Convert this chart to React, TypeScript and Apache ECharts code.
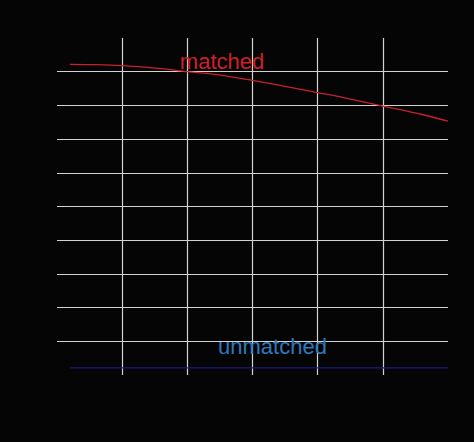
import React, { useEffect, useRef } from "react";
import * as echarts from "echarts";

// x positions (day) of the sampled points
const days = [1, 3, 5, 8, 10, 12, 15, 18, 20, 22, 25, 28, 30];
const matched = [92.2, 92.1, 91.8, 90.9, 90.0, 89.3, 87.4, 85.3, 83.8, 82.3, 79.8, 77.3, 75.3];
const unmatched = [2.1, 2.1, 2.1, 2.1, 2.1, 2.1, 2.1, 2.1, 2.1, 2.1, 2.1, 2.1, 2.1];

// where the series names sit, in data units
const matchedLabelAt = [12.66, 92.9];
const unmatchedLabelAt = [16.53, 8.6];

const App: React.FC = () => {
  const chartRef = useRef<HTMLDivElement>(null);

  useEffect(() => {
    document.body.style.margin = "0";
    if (!chartRef.current) return;
    const chart = echarts.init(chartRef.current, null, { renderer: "svg" });

    const gridLine = {
      show: true,
      showMinLine: false,
      showMaxLine: false,
      lineStyle: { color: "#d2d2d2", width: 1.2 },
    };

    const nameLabel = (name: string, at: number[], color: string) => ({
      symbol: "rect",
      symbolSize: 1,
      itemStyle: { color: "rgba(0,0,0,0)" },
      data: [
        {
          coord: at,
          label: {
            show: true,
            position: "inside",
            formatter: name,
            color,
            fontSize: 22,
            fontFamily: "Liberation Sans, Arial, sans-serif",
          },
        },
      ],
    });

    chart.setOption({
      animation: false,
      backgroundColor: "#050505",
      grid: { left: 57, right: 26, top: 38, bottom: 67 },
      xAxis: {
        type: "value",
        min: 0,
        max: 30,
        interval: 5,
        axisLine: { show: false },
        axisTick: { show: false },
        axisLabel: { show: false },
        splitLine: gridLine,
      },
      yAxis: {
        type: "value",
        min: 0,
        max: 100,
        interval: 10,
        axisLine: { show: false },
        axisTick: { show: false },
        axisLabel: { show: false },
        splitLine: gridLine,
      },
      series: [
        {
          name: "matched",
          type: "line",
          smooth: 0.3,
          symbol: "none",
          data: days.map((d, i) => [d, matched[i]]),
          lineStyle: { color: "#c8202c", width: 1.3 },
          markPoint: nameLabel("matched", matchedLabelAt, "#cf1f2b"),
        },
        {
          name: "unmatched",
          type: "line",
          symbol: "none",
          data: days.map((d, i) => [d, unmatched[i]]),
          lineStyle: { color: "#1c1c7a", width: 1.2 },
          markPoint: nameLabel("unmatched", unmatchedLabelAt, "#2f78b8"),
        },
      ],
    });

    return () => {
      chart.dispose();
    };
  }, []);

  return <div ref={chartRef} style={{ width: 474, height: 442 }} />;
};

export default App;
